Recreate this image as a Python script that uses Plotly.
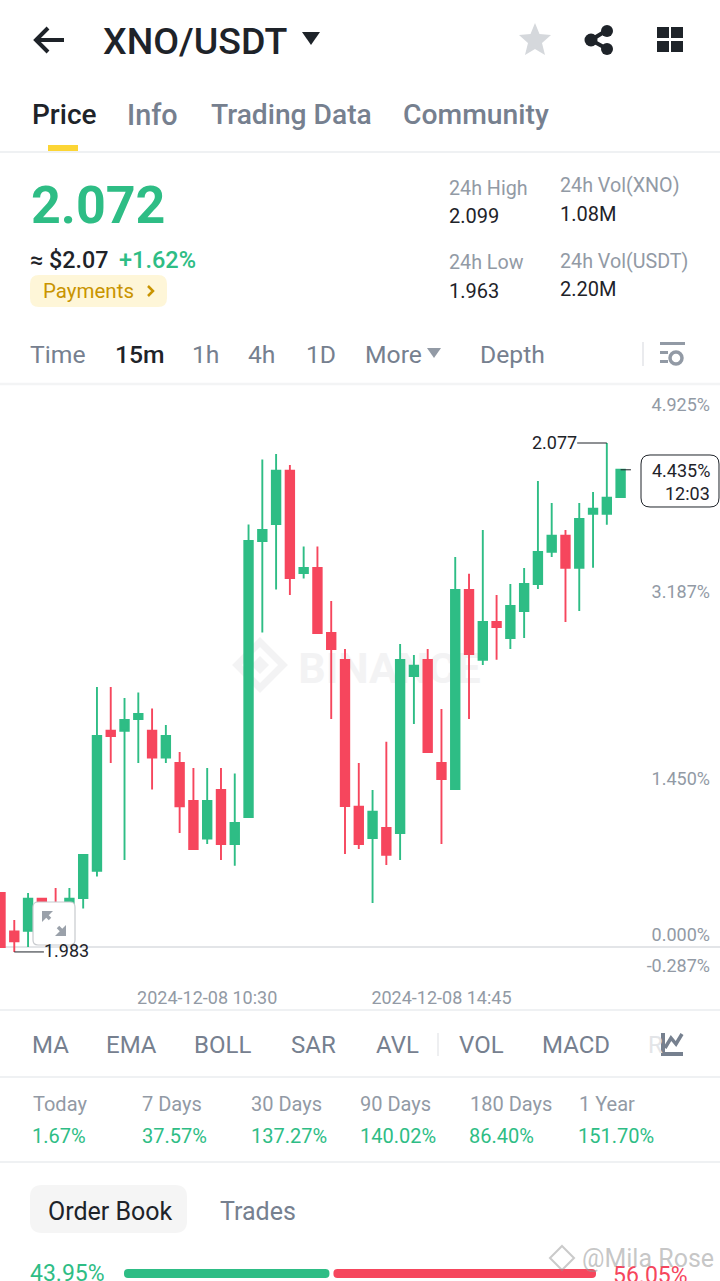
import pandas as pd
import plotly.graph_objects as go

W, H = 720, 1281
DARK = "#1E2329"; GREY = "#76808F"; LGREY = "#929AA5"; GREEN = "#2EBD85"; RED = "#F6465D"; LINE = "#EAECEF"

# ---- candle data: % change from the chart's base price ----
first_time = "2024-12-08 06:45"
opens = [0.502,0.145,0.151,0.450,0.390,0.204,0.455,0.709,2.010,2.010,2.119,2.010,1.761,1.710,1.357,1.007,1.459,0.957,1.208,3.773,3.931,4.427,3.476,3.522,2.918,2.667,1.304,1.013,1.106,1.059,2.519,2.667,1.710,1.468,3.318,2.670,3.020,2.872,3.123,3.374,3.674,3.822,3.525,4.027,4.027,4.182]
highs = [0.502,0.251,0.502,0.450,0.548,0.548,0.855,2.416,2.416,2.314,2.365,2.216,2.063,1.812,1.664,1.664,1.664,1.612,3.926,4.530,4.582,4.480,3.723,3.723,3.216,2.770,1.710,1.459,1.908,2.816,2.714,2.770,2.212,3.625,3.469,3.875,3.271,3.374,3.522,4.331,4.126,3.875,4.126,4.229,4.684,4.435]
lows = [0.000,-0.046,0.000,0.251,0.112,0.158,0.357,0.656,1.710,0.809,1.710,1.463,1.710,1.059,0.911,0.957,0.809,0.756,1.208,2.923,3.322,3.271,3.424,2.918,2.119,0.864,0.911,0.409,0.762,0.809,2.072,1.812,0.957,1.468,2.119,2.621,2.670,2.770,2.872,3.327,3.625,3.020,3.123,3.525,3.925,4.182]
closes = [0.000,0.052,0.450,0.288,0.204,0.450,0.855,1.961,1.961,2.110,2.165,1.761,1.961,1.307,0.911,1.357,0.957,1.152,3.773,3.875,4.427,3.429,3.522,2.918,2.770,1.310,0.957,1.257,0.858,2.667,2.614,1.812,1.561,3.318,2.723,3.020,2.974,3.169,3.374,3.671,3.822,3.525,3.978,4.073,4.176,4.435]
pct_ticks = [4.925, 3.187, 1.450, 0.000, -0.287]
pct_labels = ["4.925%", "3.187%", "1.450%", "0.000%", "-0.287%"]
x_ticks = ["2024-12-08 10:30", "2024-12-08 14:45"]
last_pct = "4.435%"
countdown = "12:03"
high_label = "2.077"
low_label = "1.983"
periods = ["Today", "7 Days", "30 Days", "90 Days", "180 Days", "1 Year"]
period_values = ["1.67%", "37.57%", "137.27%", "140.02%", "86.40%", "151.70%"]
book_bid, book_ask = 43.95, 56.05

times = pd.date_range(first_time, periods=len(opens), freq="15min")

fig = go.Figure(go.Candlestick(
    x=times, open=opens, high=highs, low=lows, close=closes,
    increasing=dict(line=dict(color=GREEN, width=1.9), fillcolor=GREEN),
    decreasing=dict(line=dict(color=RED, width=1.9), fillcolor=RED),
    whiskerwidth=0, hoverinfo="skip", showlegend=False,
))

shapes, notes = [], []
def X(p): return p / W
def Y(p): return 1 - p / H

def T(x, y, text, size=20, color=DARK, anchor="left", weight=400, font="Roboto"):
    x = x - 0.7 if anchor == "left" else x + 0.5
    notes.append(dict(xref="paper", yref="paper", x=X(x), y=Y(y), text=text, showarrow=False,
                      xanchor=anchor, yanchor="middle", borderpad=0,
                      font=dict(family=font, size=size, color=color, weight=weight)))

def rect(x0, y0, x1, y1, color):
    shapes.append(dict(type="rect", xref="paper", yref="paper", x0=X(x0), x1=X(x1), y0=Y(y1), y1=Y(y0),
                       fillcolor=color, line=dict(width=0), layer="above"))

def hline(x0, x1, y, color=LINE, width=1.5):
    shapes.append(dict(type="line", xref="paper", yref="paper", x0=X(x0), x1=X(x1), y0=Y(y), y1=Y(y),
                       line=dict(color=color, width=width), layer="above"))

def vline(x, y0, y1, color=LINE, width=1.5):
    shapes.append(dict(type="line", xref="paper", yref="paper", x0=X(x), x1=X(x), y0=Y(y0), y1=Y(y1),
                       line=dict(color=color, width=width), layer="above"))

def rr(x0, y0, x1, y1, r, fill, line=None, lw=1, layer="above"):
    c = lambda a, b: f"{X(a):.5f},{Y(b):.5f}"
    p = (f"M{c(x0+r,y0)} L{c(x1-r,y0)} Q{c(x1,y0)} {c(x1,y0+r)} L{c(x1,y1-r)} Q{c(x1,y1)} {c(x1-r,y1)} "
         f"L{c(x0+r,y1)} Q{c(x0,y1)} {c(x0,y1-r)} L{c(x0,y0+r)} Q{c(x0,y0)} {c(x0+r,y0)} Z")
    shapes.append(dict(type="path", xref="paper", yref="paper", path=p, fillcolor=fill,
                       line=dict(color=line or fill, width=lw if line else 0), layer=layer))

def poly(pts, fill=None, line=None, lw=0, close=True, layer="above"):
    d = "M" + " L".join(f"{X(a):.5f},{Y(b):.5f}" for a, b in pts) + (" Z" if close else "")
    shapes.append(dict(type="path", xref="paper", yref="paper", path=d,
                       fillcolor=fill or "rgba(0,0,0,0)", line=dict(color=line or "rgba(0,0,0,0)", width=lw), layer=layer))

def circle(cx, cy, r, fill=None, line=None, lw=0):
    shapes.append(dict(type="circle", xref="paper", yref="paper", x0=X(cx-r), x1=X(cx+r), y0=Y(cy+r), y1=Y(cy-r),
                       fillcolor=fill or "rgba(0,0,0,0)", line=dict(color=line or "rgba(0,0,0,0)", width=lw), layer="above"))

# ---- header ----
poly([(36,40),(64,40)], line=DARK, lw=4, close=False)
poly([(48,28),(36,40),(48,52)], line=DARK, lw=4, close=False)
T(103, 41, "XNO/USDT", 37.5, DARK, weight=500)
poly([(302,32),(320,32),(311,45)], fill=DARK)
poly([(535,23),(539.5,34),(551,35),(542,43),(545,55),(535,49),(525,55),(528,43),(519,35),(530.5,34)], fill="#D5D8DC")
poly([(609,29),(591,40),(609,50)], line=DARK, lw=4, close=False)
circle(591,40,6.5,DARK); circle(607,31,6,DARK); circle(607,49,6,DARK)
for a, b in [(657,27),(671,27),(657,41),(671,41)]:
    rect(a, b, a+12, b+11, DARK)

T(32, 115, "Price", 28, DARK, weight=500)
T(127, 115, "Info", 28.8, GREY, weight=500)
T(211, 115, "Trading Data", 28.2, GREY, weight=500)
T(403, 115, "Community", 28.3, GREY, weight=500)
rect(48, 145, 78, 151, "#FCD535")
hline(0, W, 152)

T(31, 206, "2.072", 52, GREEN, weight=700)
T(30, 260, "≈ $2.07", 23.3, DARK, weight=500)
T(119, 260, "+1.62%", 23.5, GREEN, weight=500)
rr(30, 275, 167, 307, 9, "#FEF6D8")
T(43, 291, "Payments", 20.5, "#C99400")
poly([(148,286),(153,291),(148,296)], line="#C99400", lw=2.5, close=False)

T(449, 189, "24h High", 19.7, LGREY); T(449, 216, "2.099", 20, DARK)
T(449, 262, "24h Low", 19.7, LGREY); T(449, 291, "1.963", 20, DARK)
T(560, 186, "24h Vol(XNO)", 19.7, LGREY); T(560, 214, "1.08M", 20, DARK)
T(560, 261, "24h Vol(USDT)", 19.7, LGREY); T(560, 289, "2.20M", 20, DARK)

for x, t, c, w in [(30,"Time",GREY,400),(115,"15m",DARK,500),(192,"1h",GREY,400),(248,"4h",GREY,400),
                   (306,"1D",GREY,400),(365,"More",GREY,400),(480,"Depth",GREY,400)]:
    T(x, 355, t, 24.7, c, weight=w)
poly([(427,348),(441,348),(434,358)], fill="#929AA5")
vline(643, 342, 366, "#E3E5E8", 1.5)
rect(660, 342, 685, 345, "#929AA5")
rect(660, 351, 668, 354, "#929AA5"); rect(660, 360, 668, 363, "#929AA5")
circle(676, 358, 6, None, "#929AA5", 3.5)
hline(0, W, 384, "#F3F4F5", 2.5)

# ---- chart extras ----
t_high = times[44]; t_low = times[1]; t_last = times[45]
step = pd.Timedelta(minutes=15)
shapes.append(dict(type="line", xref="x", yref="y", x0=t_high, x1=t_high - step * 2.15, y0=4.684, y1=4.684,
                   line=dict(color=DARK, width=1), layer="above"))
notes.append(dict(xref="x", yref="y", x=t_high - step * 2.15, y=4.684, text=high_label, showarrow=False, xanchor="right",
                  yanchor="middle", xshift=2, yshift=1, font=dict(family="Roboto", size=18, color=DARK)))
shapes.append(dict(type="line", xref="x", yref="y", x0=t_low, x1=t_low + step * 2.15, y0=-0.046, y1=-0.046,
                   line=dict(color=DARK, width=1), layer="above"))
notes.append(dict(xref="x", yref="y", x=t_low + step * 2.15, y=-0.046, text=low_label, showarrow=False, xanchor="left",
                  yanchor="middle", xshift=-2, yshift=1, font=dict(family="Roboto", size=18, color=DARK)))
shapes.append(dict(type="line", xref="x", yref="y", x0=t_last, x1=t_last + step * 0.75, y0=4.435, y1=4.435,
                   line=dict(color=DARK, width=1), layer="above"))
rr(641, 455, 719, 507, 9, "#FFFFFF", DARK, 1)
T(710, 471, last_pct, 18, DARK, "right")
T(710, 493, countdown, 18, DARK, "right")

rr(33, 902, 75, 945, 5, "#FFFFFF", "#C7CACE", 1.2)
poly([(44,913),(50,919)], line="#9AA1AA", lw=3.5, close=False)
poly([(58,927),(64,933)], line="#9AA1AA", lw=3.5, close=False)
poly([(42,922),(42,911),(53,911)], fill="#9AA1AA")
poly([(66,925),(66,936),(55,936)], fill="#9AA1AA")

# watermark behind candles
WM = "#F3F3F4"
poly([(260,642),(283,665),(260,688),(237,665)], line=WM, lw=7, layer="below")
poly([(260,656),(269,665),(260,674),(251,665)], fill=WM, layer="below")
shapes.append(dict(type="rect", xref="paper", yref="paper", x0=X(291), x1=X(488), y0=Y(690), y1=Y(640),
                   line=dict(width=0), fillcolor="rgba(0,0,0,0)", layer="below",
                   label=dict(text="BINANCE", font=dict(family="Roboto", size=43, color=WM, weight=700),
                              textposition="middle center")))

# ---- lower panels ----
hline(0, W, 1010); hline(0, W, 1077); hline(0, W, 1162)
for x, t in [(32,"MA"),(106,"EMA"),(194,"BOLL"),(291,"SAR"),(376,"AVL"),(459,"VOL"),(542,"MACD")]:
    T(x, 1045, t, 24, GREY)
T(648, 1045, "R", 24, "#E3E5E8")
vline(438, 1033, 1056, "#E3E5E8", 1.2)
rr(658, 1030, 690, 1060, 1, "#FFFFFF")
poly([(663,1033),(663,1054),(683,1054)], line="#76808F", lw=4, close=False)
poly([(665,1048),(671,1038),(676,1044),(682,1034)], line="#76808F", lw=3.5, close=False)

for x, x2, p, v in zip([33,142,251,360,470,579], [32,142,251,360,469,578], periods, period_values):
    T(x, 1104, p, 20, LGREY)
    T(x2, 1136, v, 20, GREEN, weight=400)

rr(30, 1185, 187, 1233, 12, "#F5F5F5")
T(48, 1211, "Order Book", 25, DARK, weight=400)
T(220, 1211, "Trades", 25, GREY, weight=400)

bar_l, bar_r = 124, 596
split = bar_l + (bar_r - bar_l) * book_bid / 100
T(30, 1273, f"{book_bid:.2f}%", 23, GREEN, weight=400)
rr(bar_l, 1269, split - 2, 1278, 4, GREEN)
rr(split + 2, 1269, bar_r, 1278, 4, RED)
T(613, 1275, f"{book_ask:.2f}%", 23, RED, weight=400)
T(582, 1258, "@Mila Rose", 25, "rgba(150,150,150,0.55)")
poly([(562,1246),(574,1258),(562,1270),(550,1258)], line="rgba(150,150,150,0.5)", lw=2)

# px->axis: 107.6 px per 1 %, 0 % sits at y = 947
top_px, bot_px = 384, 985
y_top = (947 - top_px) / 107.6
y_bot = (947 - bot_px) / 107.6
left = pd.Timestamp(x_ticks[0]) - step * (207.2 / 13.78)
right = pd.Timestamp(x_ticks[0]) + step * ((720 - 207.2) / 13.78)

fig.update_layout(
    width=W, height=H, margin=dict(l=0, r=0, t=0, b=0), paper_bgcolor="#FFFFFF", plot_bgcolor="rgba(0,0,0,0)",
    boxgap=0.12, showlegend=False, shapes=shapes, annotations=notes, dragmode=False,
    xaxis=dict(domain=[0, 1], range=[left, right], rangeslider=dict(visible=False), showgrid=False, zeroline=False,
               showline=False, ticks="", tickmode="array", tickvals=[pd.Timestamp(t) for t in x_ticks], ticktext=x_ticks,
               tickfont=dict(family="Roboto", size=18, color=LGREY)),
    yaxis=dict(domain=[1 - bot_px / H, 1 - top_px / H], range=[y_bot, y_top], side="right", showgrid=False,
               zeroline=True, zerolinecolor="#E3E5E8", zerolinewidth=1.5, showline=False, ticks="",
               tickmode="array", tickvals=pct_ticks, ticktext=pct_labels, ticklabelposition="inside top",
               ticklabelstandoff=7, tickfont=dict(family="Roboto", size=18, color=LGREY)),
)
fig.write_html("out.html", config=dict(displayModeBar=False, staticPlot=True),
               post_script="document.body.style.margin='0';")
